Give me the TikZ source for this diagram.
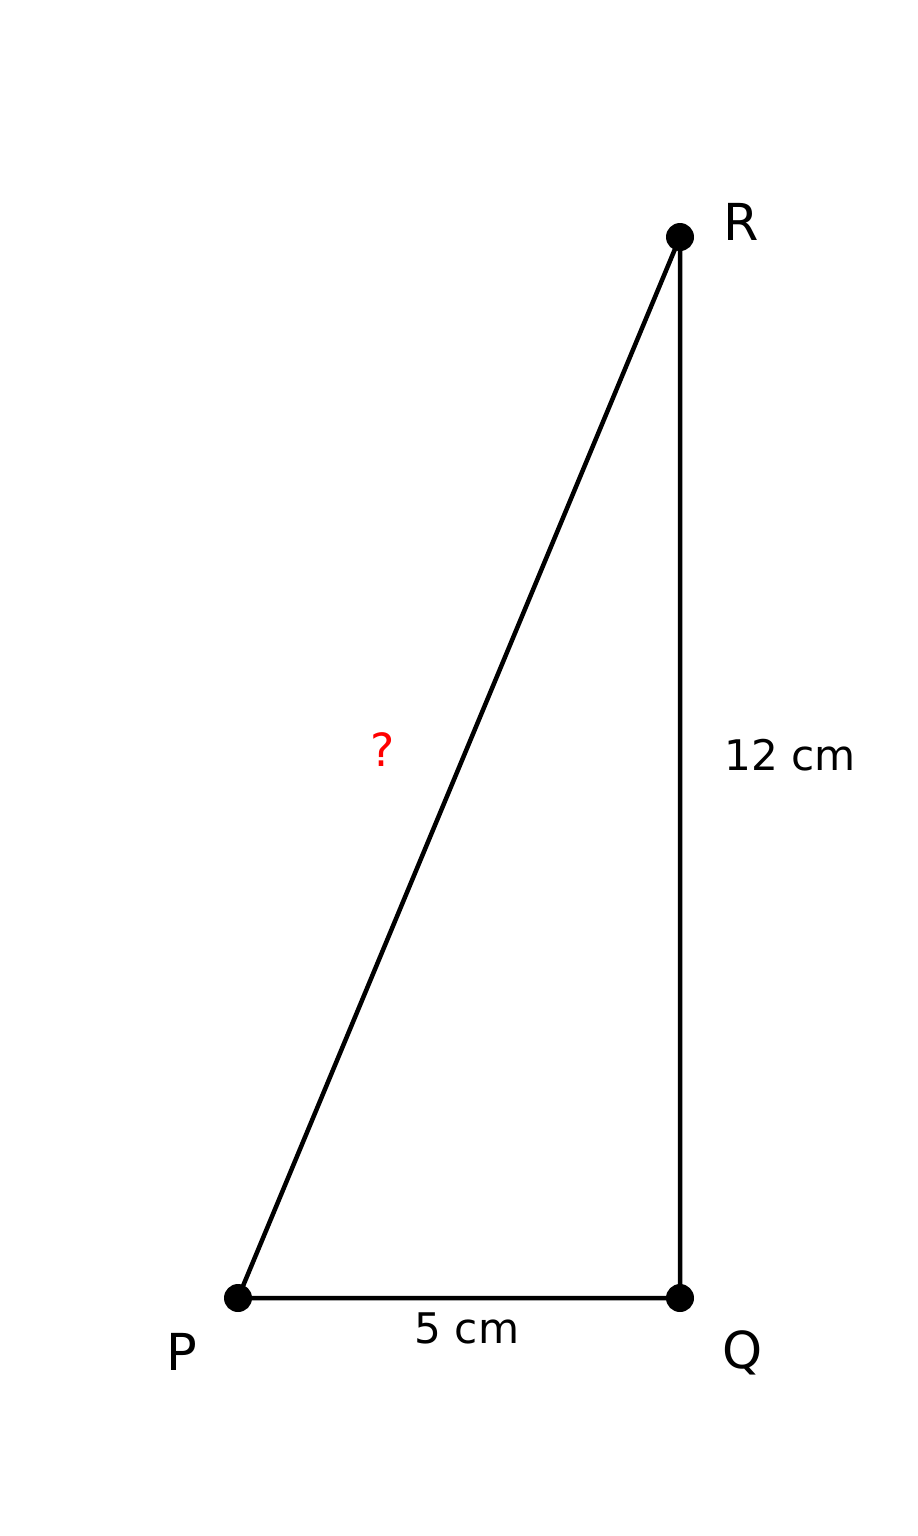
\documentclass[tikz,border=0pt]{standalone}
\usepackage{fontspec}
\setmainfont{DejaVu Sans}
\usetikzlibrary{positioning}
\begin{document}
\begin{tikzpicture}
		[x=0.02cm, y=-0.02cm,
		line width=0.09cm,
		vertex/.style= {circle, fill=black, inner sep=0pt, minimum size=0.56cm},
		vname/.style= {font=\fontsize{29}{34}\selectfont},
		side/.style= {font=\fontsize{24}{29}\selectfont},
		unknown/.style= {font=\fontsize{26}{31}\selectfont, text=red}
		]
		\useasboundingbox (0,0) rectangle (918,1536);

		\node [vertex] (P) at (238,1298) {};
		\node [vertex] (Q) at (680,1298) {};
		\node [vertex] (R) at (680,237) {};

		\draw (P.center) -- (Q.center) -- (R.center) -- (P.center);

		\node [vname] (PL) at (182,1352) {P};
		\node [vname] (QL) at (743,1353) {Q};
		\node [vname] (RL) at (741,222) {R};

		\node [side] (PQ) at (467,1328) {5 cm};
		\node [side] (QR) at (790,755) {12 cm};
		\node [unknown] (PR) at (383,750) {?};

	\end{tikzpicture}
\end{document}
